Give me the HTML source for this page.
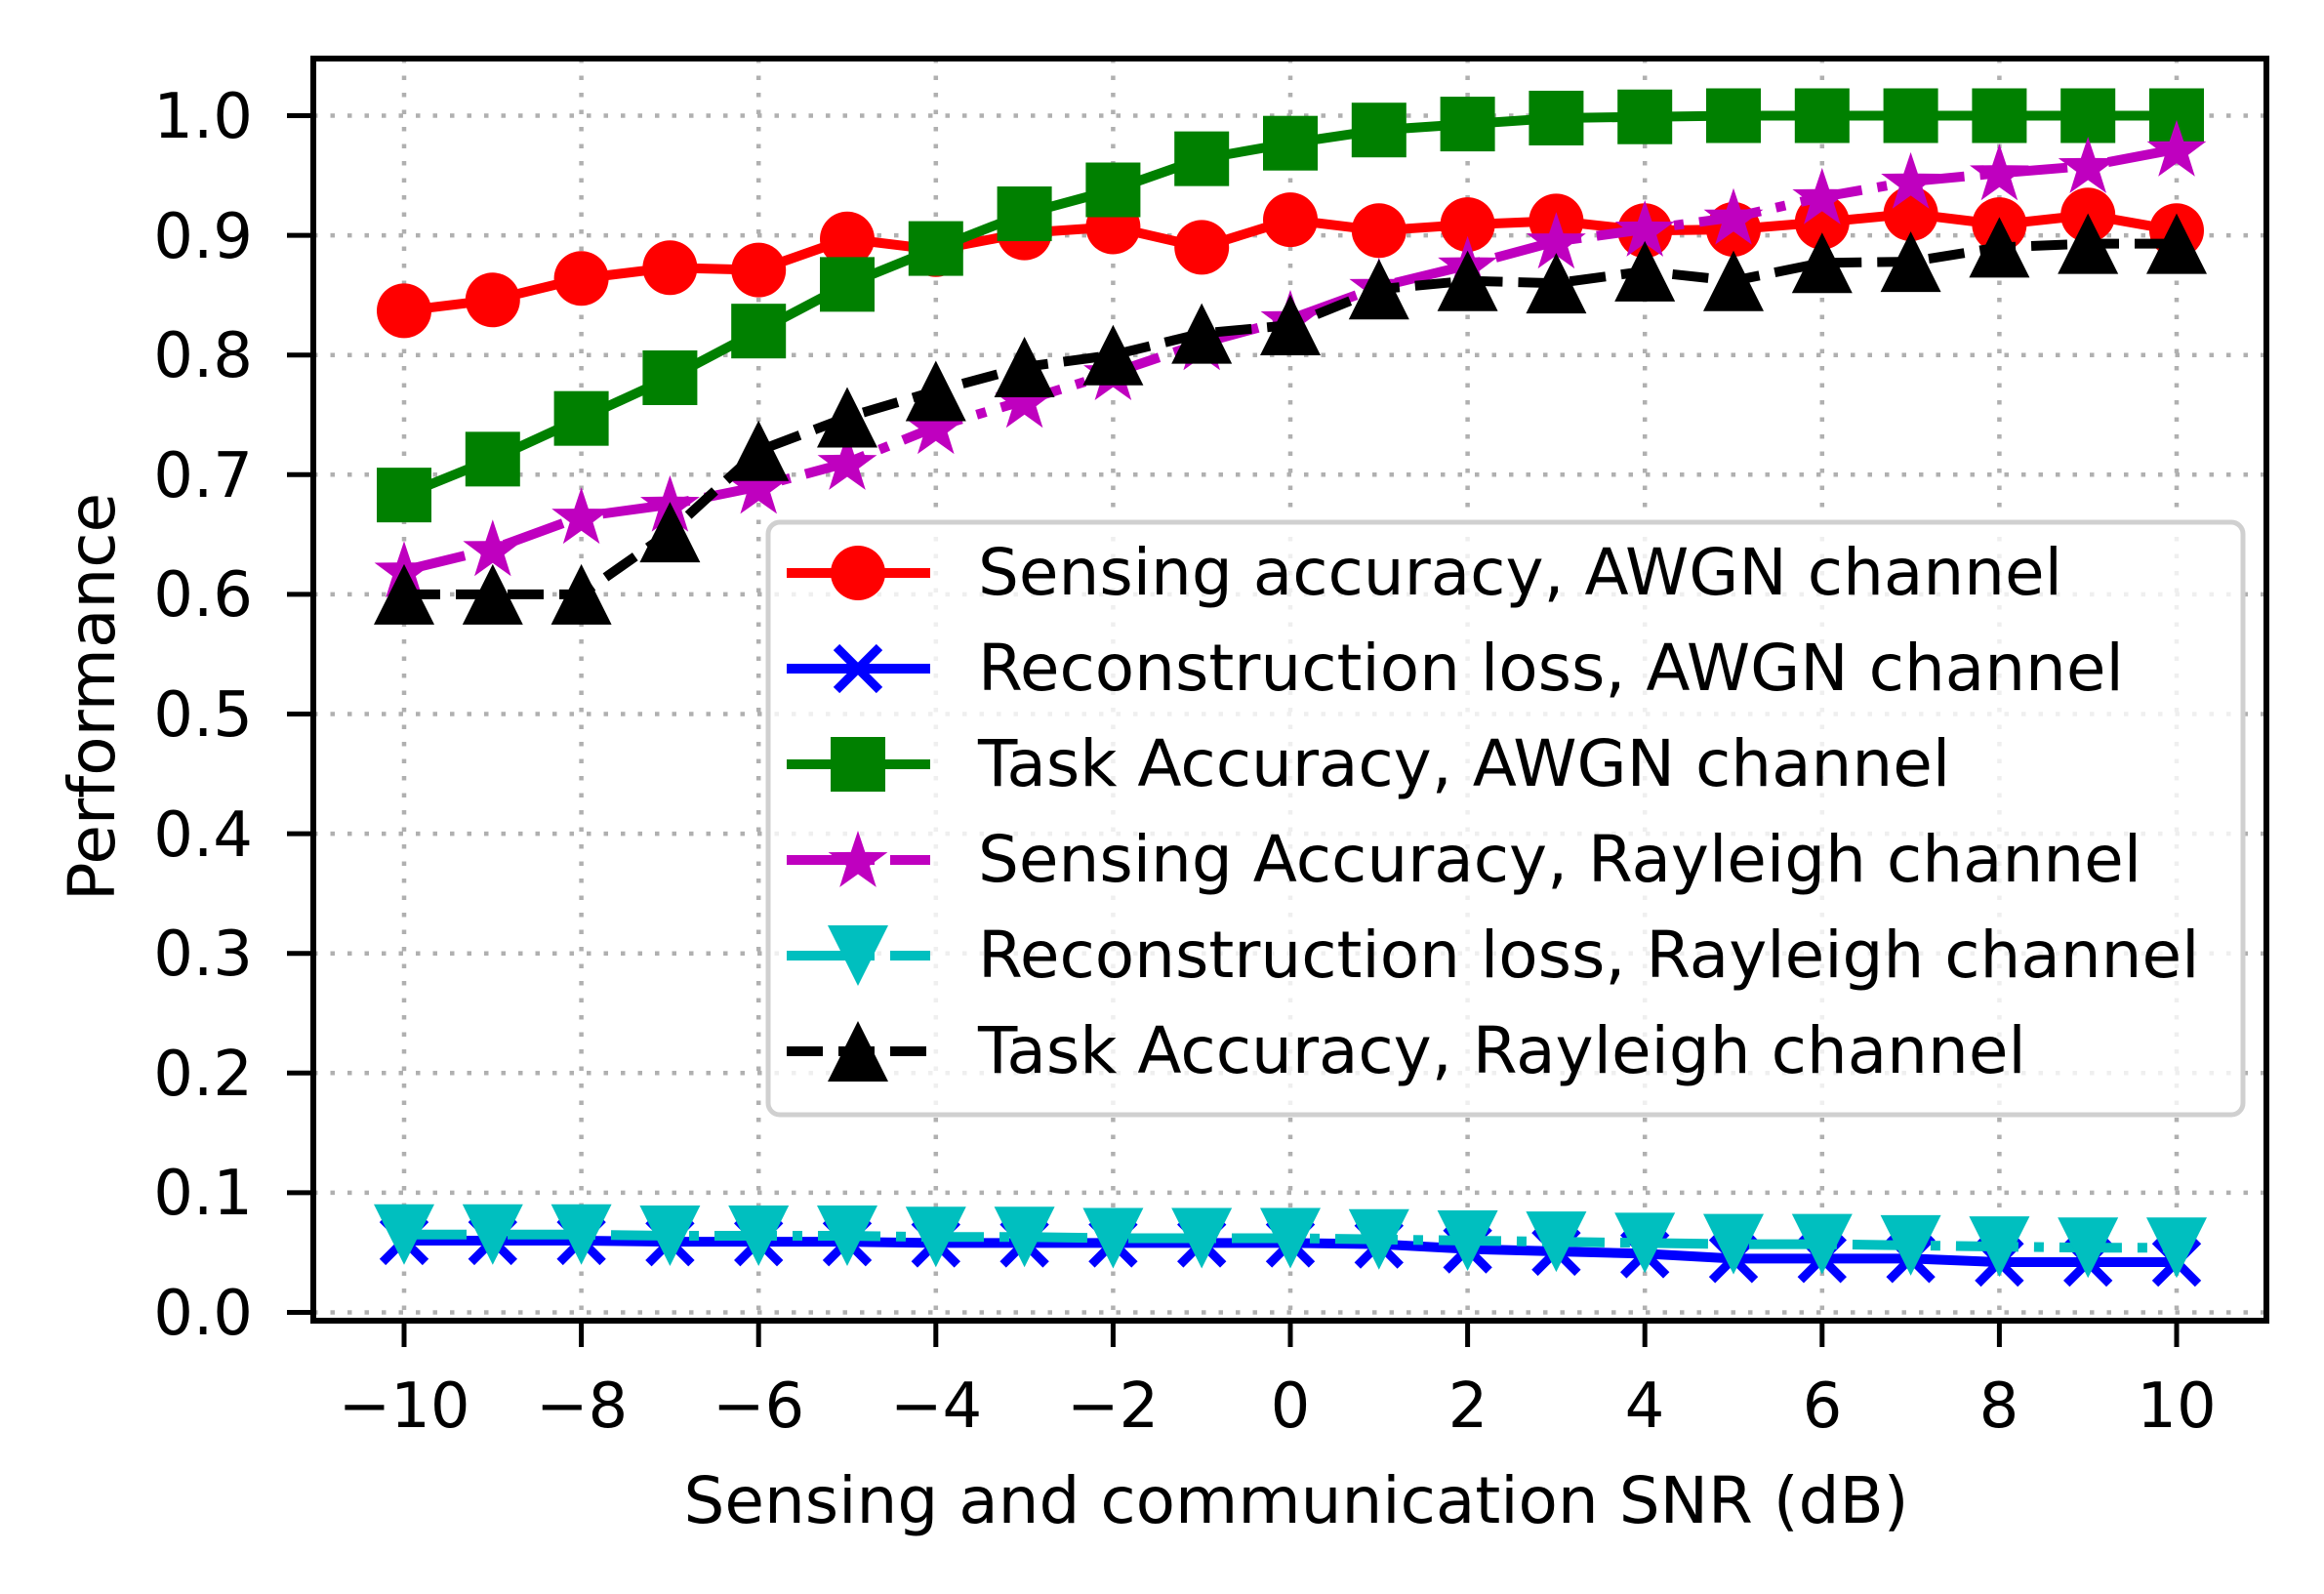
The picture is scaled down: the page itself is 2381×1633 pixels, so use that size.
<!DOCTYPE html>
<html><head><meta charset="utf-8"><style>
html,body{margin:0;padding:0;background:#fff;}
svg{display:block;}
text{font-family:"DejaVu Sans","Liberation Sans",sans-serif;fill:#000;}
</style></head><body>
<svg id="s" width="2381" height="1633" viewBox="0 0 2381 1633" xmlns="http://www.w3.org/2000/svg">
<rect width="2381" height="1633" fill="#fff"/>
<g id="grid" stroke="#b0b0b0" stroke-width="4.5" stroke-dasharray="4.5 13"></g>
<g id="series"></g>
<g id="axes" stroke="#000" stroke-width="6" fill="none">
<rect x="321" y="60" width="2001" height="1293"/>
</g>
<g id="ticks" stroke="#000" stroke-width="5"></g>
<g font-size="64" text-anchor="end" id="ylab">
<text x="259" y="141">1.0</text>
<text x="259" y="264">0.9</text>
<text x="259" y="386">0.8</text>
<text x="259" y="509">0.7</text>
<text x="259" y="631">0.6</text>
<text x="259" y="754">0.5</text>
<text x="259" y="877">0.4</text>
<text x="259" y="999">0.3</text>
<text x="259" y="1122">0.2</text>
<text x="259" y="1244">0.1</text>
<text x="259" y="1367">0.0</text>
</g>
<g font-size="64" text-anchor="middle">
<text x="414" y="1462">−10</text>
<text x="596" y="1462">−8</text>
<text x="777" y="1462">−6</text>
<text x="959" y="1462">−4</text>
<text x="1140" y="1462">−2</text>
<text x="1322" y="1462">0</text>
<text x="1504" y="1462">2</text>
<text x="1685" y="1462">4</text>
<text x="1867" y="1462">6</text>
<text x="2048" y="1462">8</text>
<text x="2230" y="1462">10</text>
</g>
<g font-size="66" text-anchor="middle">
<text x="1328" y="1560">Sensing and communication SNR (dB)</text>
<text transform="translate(117,714) rotate(-90)" x="0" y="0">Performance</text>
</g>
<rect x="787" y="535" width="1511" height="607" rx="12" fill="#fff" fill-opacity="0.8" stroke="#d0d0d0" stroke-width="5"/>
<g id="leg"></g>
<g font-size="66">
<text x="1002" y="609">Sensing accuracy, AWGN channel</text>
<text x="1002" y="707">Reconstruction loss, AWGN channel</text>
<text x="1002" y="805">Task Accuracy, AWGN channel</text>
<text x="1002" y="903">Sensing Accuracy, Rayleigh channel</text>
<text x="1002" y="1001">Reconstruction loss, Rayleigh channel</text>
<text x="1002" y="1099">Task Accuracy, Rayleigh channel</text>
</g>
</svg>
<script>
var NS="http://www.w3.org/2000/svg";
function el(p,t,a){var e=document.createElementNS(NS,t);for(var k in a)e.setAttribute(k,a[k]);p.appendChild(e);return e;}
function X(s){return 414+(s+10)*90.8;}
function Y(v){return 1344.5-v*1226;}
var g=document.getElementById('grid'),tk=document.getElementById('ticks');
for(var s=-10;s<=10;s+=2){el(g,'line',{x1:X(s),x2:X(s),y1:60,y2:1353});el(tk,'line',{x1:X(s),x2:X(s),y1:1353,y2:1380});}
for(var i=0;i<=10;i++){var y=Y(i/10);el(g,'line',{x1:321,x2:2322,y1:y,y2:y});el(tk,'line',{x1:294,x2:321,y1:y,y2:y});}
var D={
red:[0.837,0.846,0.864,0.873,0.871,0.897,0.888,0.902,0.907,0.890,0.913,0.904,0.909,0.912,0.904,0.905,0.911,0.918,0.909,0.917,0.904],
blue:[0.060,0.060,0.060,0.059,0.059,0.059,0.058,0.058,0.058,0.058,0.058,0.057,0.053,0.051,0.049,0.045,0.045,0.045,0.042,0.042,0.042],
green:[0.683,0.713,0.747,0.781,0.820,0.859,0.889,0.918,0.938,0.964,0.977,0.988,0.993,0.998,0.999,1,1,1,1,1,1],
mag:[0.620,0.638,0.665,0.675,0.690,0.710,0.740,0.762,0.785,0.810,0.830,0.857,0.875,0.895,0.905,0.915,0.932,0.945,0.952,0.958,0.972],
cyan:[0.065,0.065,0.065,0.064,0.064,0.064,0.063,0.063,0.062,0.062,0.062,0.061,0.060,0.059,0.058,0.057,0.057,0.056,0.055,0.054,0.054],
blk:[0.600,0.600,0.600,0.652,0.720,0.748,0.770,0.790,0.800,0.818,0.825,0.855,0.862,0.860,0.870,0.862,0.877,0.878,0.890,0.893,0.893]};
var S=[
{k:'red',c:'#ff0000',d:'',m:'o'},
{k:'blue',c:'#0000ff',d:'',m:'x'},
{k:'green',c:'#008000',d:'',m:'s'},
{k:'mag',c:'#bf00bf',d:'64 16 10 16',m:'*'},
{k:'cyan',c:'#00bfbf',d:'64 16 10 16',m:'v'},
{k:'blk',c:'#000000',d:'37 16',m:'^'}];
function marker(p,m,c,x,y){
 if(m=='o')el(p,'circle',{cx:x,cy:y,r:28,fill:c});
 else if(m=='s')el(p,'rect',{x:x-28,y:y-28,width:56,height:56,fill:c});
 else if(m=='x')el(p,'path',{d:'M'+(x-22)+','+(y-22)+'L'+(x+22)+','+(y+22)+'M'+(x-22)+','+(y+22)+'L'+(x+22)+','+(y-22),stroke:c,'stroke-width':9,fill:'none'});
 else if(m=='v')el(p,'path',{d:'M'+(x-31)+','+(y-31)+'L'+(x+31)+','+(y-31)+'L'+x+','+(y+31)+'Z',fill:c});
 else if(m=='^')el(p,'path',{d:'M'+(x-31)+','+(y+31)+'L'+(x+31)+','+(y+31)+'L'+x+','+(y-31)+'Z',fill:c});
 else if(m=='*'){var pts=[];for(var i=0;i<10;i++){var r=i%2?12.5:32,a=-Math.PI/2+i*Math.PI/5;pts.push((x+r*Math.cos(a)).toFixed(1)+','+(y+r*Math.sin(a)+2).toFixed(1));}el(p,'polygon',{points:pts.join(' '),fill:c});}
}
var sg=document.getElementById('series'),lg=document.getElementById('leg');
S.forEach(function(o,j){
 var d=D[o.k],pts=[];for(var i=0;i<21;i++)pts.push(X(i-10)+','+Y(d[i]));
 var a={points:pts.join(' '),fill:'none',stroke:o.c,'stroke-width':10,'stroke-linejoin':'round'};if(o.d)a['stroke-dasharray']=o.d;
 el(sg,'polyline',a);
 for(var i=0;i<21;i++)marker(sg,o.m,o.c,X(i-10),Y(d[i]));
 var ly=587+98*j;var b={x1:806,x2:953,y1:ly,y2:ly,stroke:o.c,'stroke-width':10};if(o.d)b['stroke-dasharray']=o.d;
 el(lg,'line',b);marker(lg,o.m,o.c,879,ly);
});
</script>
</body></html>
